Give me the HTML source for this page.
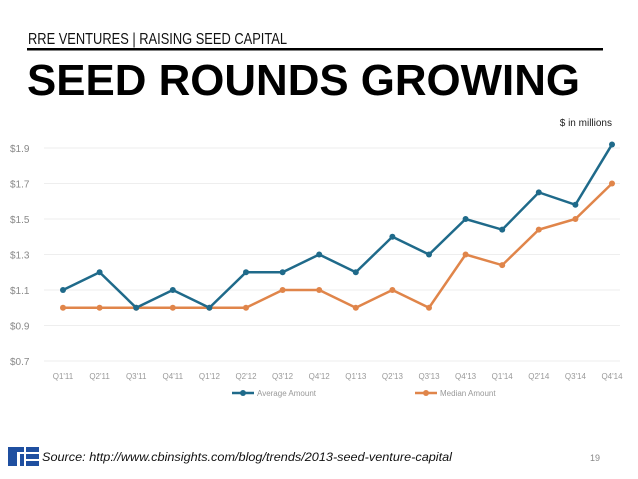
<!DOCTYPE html>
<html><head><meta charset="utf-8"><style>
body{margin:0;background:#fff;}
svg{display:block;font-family:"Liberation Sans",sans-serif;}
</style></head><body>
<svg id="c" width="638" height="479" xmlns="http://www.w3.org/2000/svg">
<text x="28" y="44" font-size="16" fill="#111" textLength="259" lengthAdjust="spacingAndGlyphs">RRE VENTURES | RAISING SEED CAPITAL</text>
<rect x="27" y="48" width="576" height="2.5" fill="#000"/>
<text x="27" y="95" font-size="44" font-weight="bold" fill="#000" textLength="553" lengthAdjust="spacingAndGlyphs">SEED ROUNDS GROWING</text>
<text x="612" y="126" font-size="10" fill="#222" text-anchor="end">$ in millions</text>
<g id="plot"></g>
<g>
<rect x="8" y="447" width="9" height="19" fill="#1f4fa0"/>
<rect x="17" y="447" width="7" height="5" fill="#1f4fa0"/>
<rect x="20" y="454" width="4" height="12" fill="#1f4fa0"/>
<rect x="26" y="447" width="13" height="5" fill="#1f4fa0"/>
<rect x="26" y="454" width="13" height="5" fill="#1f4fa0"/>
<rect x="26" y="461" width="13" height="5" fill="#1f4fa0"/>
</g>
<text x="42" y="461" font-size="12" font-style="italic" fill="#111" textLength="410" lengthAdjust="spacingAndGlyphs">Source: http://www.cbinsights.com/blog/trends/2013-seed-venture-capital</text>
<text x="590" y="461" font-size="9" fill="#888">19</text>
</svg>
<script>
const categories=["Q1'11","Q2'11","Q3'11","Q4'11","Q1'12","Q2'12","Q3'12","Q4'12","Q1'13","Q2'13","Q3'13","Q4'13","Q1'14","Q2'14","Q3'14","Q4'14"];
const averageAmount=[1.1,1.2,1.0,1.1,1.0,1.2,1.2,1.3,1.2,1.4,1.3,1.5,1.44,1.65,1.58,1.92];
const medianAmount=[1.0,1.0,1.0,1.0,1.0,1.0,1.1,1.1,1.0,1.1,1.0,1.3,1.24,1.44,1.5,1.7];
const yTicks=[0.7,0.9,1.1,1.3,1.5,1.7,1.9];
const yTickLabels=["$0.7","$0.9","$1.1","$1.3","$1.5","$1.7","$1.9"];
const NS="http://www.w3.org/2000/svg";
const g=document.getElementById('plot');
const x0=63,x1=612,yTop=148,yBot=361,vTop=1.9,vBot=0.7;
function xs(i){return x0+(x1-x0)*i/(categories.length-1);}
function ys(v){return yBot-(v-vBot)/(vTop-vBot)*(yBot-yTop);}
function mk(t,a){const e=document.createElementNS(NS,t);for(const k in a)e.setAttribute(k,a[k]);g.appendChild(e);return e;}
yTicks.forEach((v,i)=>{
  const l=mk('line',{x1:44,x2:620,y1:ys(v),y2:ys(v),stroke:'#eeeeee','stroke-width':1});
  
  
  const t=mk('text',{x:10,y:ys(v)+4,'font-size':10,fill:'#888'});
  t.textContent=yTickLabels[i];
  
  
});
categories.forEach((c,i)=>{
  const t=mk('text',{x:xs(i),y:379,'font-size':8,fill:'#999','text-anchor':'middle'});
  t.textContent=c;
  
  
});
function series(vals,color,name){
  const p=mk('polyline',{points:vals.map((v,i)=>xs(i)+','+ys(v)).join(' '),fill:'none',stroke:color,'stroke-width':2.5});
  
  
  vals.forEach((v,i)=>{
    const c=mk('circle',{cx:xs(i),cy:ys(v),r:3,fill:color});
    
    
  });
}
series(medianAmount,'#e0854a','median-amount');
series(averageAmount,'#1f6a8a','average-amount');
[['#1f6a8a','Average Amount',232],['#e0854a','Median Amount',415]].forEach(([col,lab,lx])=>{
  const l=mk('line',{x1:lx,x2:lx+22,y1:393,y2:393,stroke:col,'stroke-width':2.5});
  
  
  const c=mk('circle',{cx:lx+11,cy:393,r:3,fill:col});
  
  
  const t=mk('text',{x:lx+25,y:396,'font-size':8,fill:'#999'});
  t.textContent=lab;
  
  
});
</script>
</body></html>
